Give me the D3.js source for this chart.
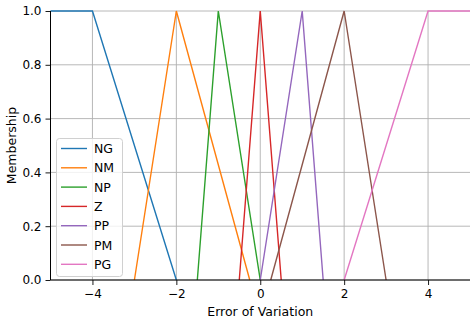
<!DOCTYPE html>
<html><head><meta charset="utf-8">
<script src="https://cdn.jsdelivr.net/npm/d3@7"></script>
<style>body{margin:0;background:#fff}svg{font-family:"DejaVu Sans",sans-serif}</style>
</head><body>
<svg id="chart" width="474" height="325"></svg>
<script>
const seriesNames = ["NG","NM","NP","Z","PP","PM","PG"];
const seriesColors = ["#1f77b4","#ff7f0e","#2ca02c","#d62728","#9467bd","#8c564b","#e377c2"];
// membership breakpoints [x, membership]
const NG = [[-5,1],[-4,1],[-2,0]];
const NM = [[-3,0],[-2,1],[-0.25,0]];
const NP = [[-1.5,0],[-1,1],[0,0]];
const Z  = [[-0.5,0],[0,1],[0.5,0]];
const PP = [[0,0],[1,1],[1.5,0]];
const PM = [[0.25,0],[2,1],[3,0]];
const PG = [[2,0],[4,1],[5,1]];
const seriesData = [NG,NM,NP,Z,PP,PM,PG];
const xTicks = [-4,-2,0,2,4];
const yTicks = [0,0.2,0.4,0.6,0.8,1.0];

const svg = d3.select("#chart");
const L=50.5, R=470, T=11, B=280;
const x = d3.scaleLinear().domain([-5,5]).range([L,R]);
const y = d3.scaleLinear().domain([0,1]).range([B,T]);

// grid
svg.append("g").selectAll("line").data(xTicks).join("line")
  .attr("x1",d=>x(d)).attr("x2",d=>x(d)).attr("y1",T).attr("y2",B)
  .attr("stroke","#b0b0b0").attr("stroke-width",0.9);
svg.append("g").selectAll("line").data(yTicks).join("line")
  .attr("x1",L).attr("x2",R).attr("y1",d=>y(d)).attr("y2",d=>y(d))
  .attr("stroke","#b0b0b0").attr("stroke-width",0.9);

// lines
const line = d3.line().x(d=>x(d[0])).y(d=>y(d[1]));
svg.append("g").selectAll("path").data(seriesData).join("path")
  .attr("d",line).attr("fill","none")
  .attr("stroke",(d,i)=>seriesColors[i]).attr("stroke-width",1.4);

// axes
const fmtX = d => d<0 ? "\u2212"+Math.abs(d) : String(d);
const xAxis = d3.axisBottom(x).tickValues(xTicks).tickFormat(fmtX).tickSize(5).tickPadding(4);
const yAxis = d3.axisLeft(y).tickValues(yTicks).tickFormat(d3.format(".1f")).tickSize(5).tickPadding(4);
const gx = svg.append("g").attr("transform",`translate(0,${B})`).call(xAxis);
const gy = svg.append("g").attr("transform",`translate(${L},0)`).call(yAxis);
[gx,gy].forEach(g=>{
  g.selectAll("text").attr("font-size",12).attr("font-family","DejaVu Sans").attr("fill","#000");
  g.selectAll("line").attr("stroke","#000").attr("stroke-width",0.9);
  g.select(".domain").attr("stroke","#000").attr("stroke-width",1).attr("d", g===gx ? `M${L},0H${R}` : `M0,${B}V${T}`);
});

// labels
svg.append("text").attr("x",(L+R)/2).attr("y",316).attr("text-anchor","middle")
  .attr("font-size",12.5).text("Error of Variation");
svg.append("text").attr("transform",`translate(15.5,${(T+B)/2}) rotate(-90)`).attr("text-anchor","middle")
  .attr("font-size",12.5).text("Membership");

// legend
const lg = svg.append("g");
lg.append("rect").attr("x",56.5).attr("y",138.5).attr("width",66).attr("height",138)
  .attr("rx",3).attr("fill","#fff").attr("fill-opacity",0.8).attr("stroke","#d0d0d0").attr("stroke-width",1);
const items = lg.selectAll("g.it").data(seriesNames).join("g").attr("class","it")
  .attr("transform",(d,i)=>`translate(0,${148.5+i*19.3})`);
items.append("line").attr("x1",61).attr("x2",87).attr("stroke",(d,i)=>seriesColors[i]).attr("stroke-width",1.4);
items.append("text").attr("x",94).attr("y",4.5).attr("font-size",12.5).text(d=>d);
</script>
</body></html>
